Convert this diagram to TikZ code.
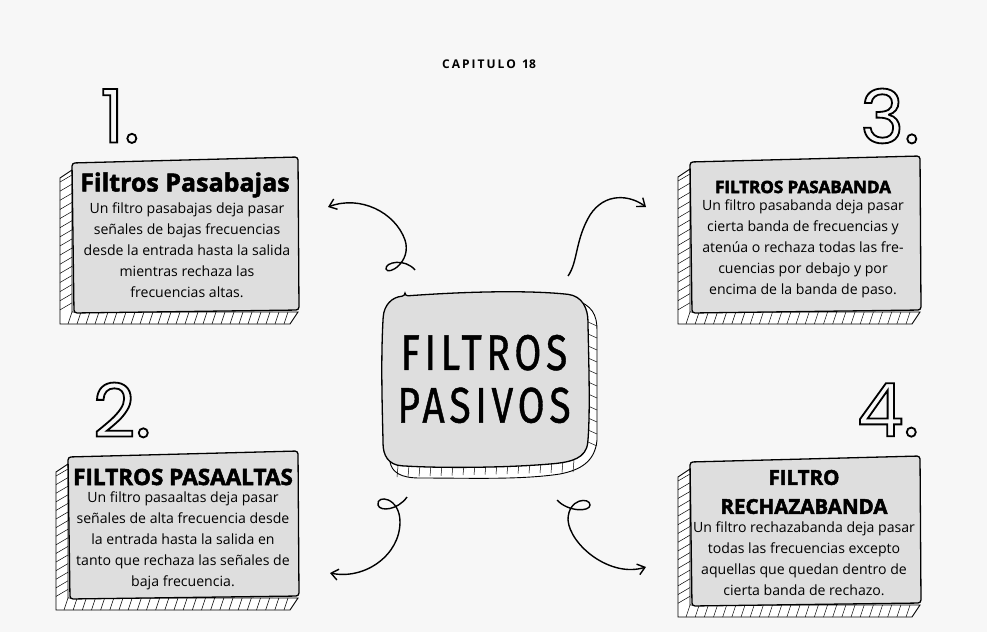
\documentclass[tikz,border=0pt]{standalone}
\usepackage{fontspec}
\setmainfont{Open Sans}
\newfontfamily\numfont{Poppins}
\newfontfamily\headfont{Fira Sans}
\usetikzlibrary{arrows.meta}
\newcommand{\outl}[1]{\special{pdf:literal direct 1 Tr 1.8 w}#1\special{pdf:literal direct 0 Tr}}
\newcommand{\boldish}[1]{\special{pdf:literal direct 2 Tr 0.5 w}#1\special{pdf:literal direct 0 Tr}}
\tikzset{
  face/.style={draw=black, line width=1.3pt, fill=black!13, rounded corners=3pt},
  strip/.style={draw=black, line width=0.9pt, fill=white},
  hatch/.style={line width=0.5pt},
  curly/.style={line width=1.4pt, -{Straight Barb[length=7pt,width=11pt,line width=1.4pt]}},
  body/.style={align=center, font=\fontsize{14.1}{20.8}\selectfont, inner sep=0pt},
  bignum/.style={font=\numfont\fontsize{74}{74}\selectfont},
}
\newcommand{\sketchbox}[5]{%
  \fill[strip] (#1,#2+10) -- (#1-#5,#2+18) -- (#1-#5,#4+#5) -- (#3-8,#4+#5) -- (#3,#4) -- (#1,#4) -- cycle;
  \foreach \t in {0,...,14}{\draw[hatch] (#1,{#2+15+\t*(#4-#2-15)/15}) -- (#1-#5,{#2+22+\t*(#4-#2-15)/15});}
  \foreach \t in {0,...,24}{\draw[hatch] ({#1+\t*(#3-#1-10)/24},#4) -- ({#1-4+\t*(#3-#1-10)/24},#4+#5);}
  \draw[face] (#1,#2+3) -- (#3,#2-3) -- (#3+1,#4-2) -- (#1+2,#4+1) -- cycle;
}
\begin{document}
\begin{tikzpicture}[x=1pt,y=-1pt]
\useasboundingbox[fill=black!3] (0,0) rectangle (987,632);
\node (cap) at (489,64) {\fontsize{12}{12}\selectfont\bfseries C\,A\,P\,I\,T\,U\,L\,O\ \ 18};
\sketchbox{72}{160}{298}{312}{12}
\sketchbox{690}{159}{920}{312}{12}
\sketchbox{68}{454}{298}{598}{12}
\sketchbox{690}{459}{920}{605}{12}
% center
\fill[strip] (575,300) .. controls (592,305) and (597,315) .. (597,330) -- (597,440) .. controls (595,462) and (580,470) .. (560,474) .. controls (520,480) and (470,478) .. (420,478) .. controls (400,478) and (392,472) .. (390,462) -- (580,440) -- cycle;
\foreach \t in {0,...,10}{\draw[hatch] (588,{322+\t*12}) -- (597,{326+\t*12});}
\foreach \t in {0,...,16}{\draw[hatch] ({398+\t*11},{466-\t*0.4}) -- ({397+\t*11},{477-\t*0.3});}
\draw[face] (405,296) .. controls (460,292) and (520,290) .. (565,294) .. controls (582,296) and (588,308) .. (588,325) .. controls (589,370) and (590,410) .. (588,440) .. controls (586,458) and (572,462) .. (550,464) .. controls (500,468) and (440,468) .. (405,466) .. controls (388,465) and (383,455) .. (383,440) .. controls (382,400) and (381,360) .. (383,320) .. controls (384,305) and (392,297) .. (405,296) -- cycle;
\node (center) at (484,379) {\headfont\addfontfeatures{LetterSpace=12}\fontsize{50}{66}\selectfont\scalebox{0.78}[1]{\shortstack{\boldish{FILTROS}\\[14pt]\boldish{PASIVOS}}}};
\node[bignum] (n1) at (120,116) {\outl{1.}};
\node[bignum] (n3) at (890,116) {\outl{3.}};
\node[bignum] (n2) at (122,410) {\outl{2.}};
\node[bignum] (n4) at (888,410) {\outl{4.}};
\node[font=\fontsize{25}{27}\selectfont\bfseries] (t1) at (185,185) {\boldish{Filtros Pasabajas}};
\node[body, anchor=north] (b1) at (187,203) {Un filtro pasabajas deja pasar\\señales de bajas frecuencias\\desde la entrada hasta la salida\\mientras rechaza las\\frecuencias altas.};
\node[font=\fontsize{17}{19}\selectfont\bfseries] (t3) at (803,187) {\boldish{FILTROS PASABANDA}};
\node[body, anchor=north] (b3) at (803,200) {Un filtro pasabanda deja pasar\\cierta banda de frecuencias y\\atenúa o rechaza todas las fre-\\cuencias por debajo y por\\encima de la banda de paso.};
\node[font=\fontsize{22.5}{24}\selectfont\bfseries] (t2) at (183,477) {\boldish{FILTROS PASAALTAS}};
\node[body, anchor=north] (b2) at (183,492) {Un filtro pasaaltas deja pasar\\señales de alta frecuencia desde\\la entrada hasta la salida en\\tanto que rechaza las señales de\\baja frecuencia.};
\node[font=\fontsize{20.5}{29}\selectfont\bfseries, align=center] (t4) at (804,492) {\boldish{FILTRO}\\\boldish{RECHAZABANDA}};
\node[body, anchor=north] (b4) at (804,522) {Un filtro rechazabanda deja pasar\\todas las frecuencias excepto\\aquellas que quedan dentro de\\cierta banda de rechazo.};
\coordinate (a1s) at (415,270); \coordinate (a1e) at (328,207);
\draw[curly] (a1s) .. controls (405,258) and (385,262) .. (386,269) .. controls (388,276) and (412,262) .. (405,240) .. controls (395,212) and (360,195) .. (a1e);
\coordinate (a3s) at (568,276); \coordinate (a3e) at (646,207);
\draw[curly] (a3s) .. controls (578,262) and (575,240) .. (590,215) .. controls (605,192) and (630,195) .. (a3e);
\coordinate (a2s) at (407,497); \coordinate (a2e) at (330,573);
\draw[curly] (a2s) .. controls (398,510) and (380,512) .. (378,505) .. controls (376,494) and (400,497) .. (400,522) .. controls (400,555) and (365,580) .. (a2e);
\coordinate (a4s) at (557,500); \coordinate (a4e) at (646,567);
\draw[curly] (a4s) .. controls (568,512) and (590,512) .. (590,505) .. controls (590,497) and (568,498) .. (568,520) .. controls (570,545) and (610,578) .. (a4e);
\end{tikzpicture}
\end{document}
